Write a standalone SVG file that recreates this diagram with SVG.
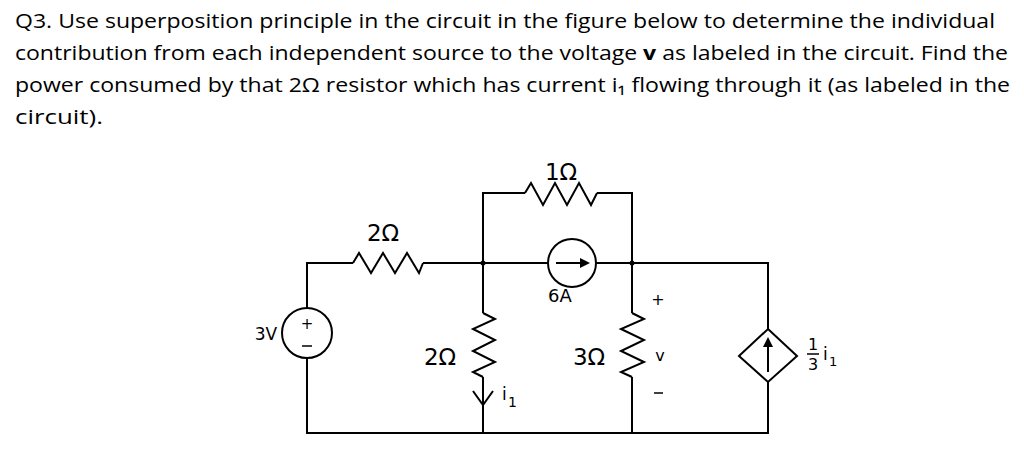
<svg xmlns="http://www.w3.org/2000/svg" width="1024" height="457" viewBox="0 0 1024 457">
<style>
.t{font-family:"Open Sans","Liberation Sans",Arial,sans-serif;font-size:20px;fill:#000}
.c{font-family:"DejaVu Sans",sans-serif;fill:#000}
.w{fill:none;stroke:#000;stroke-width:2}
</style>
<rect width="1024" height="457" fill="#fff"/>
<text class="t" x="15" y="28" textLength="980" lengthAdjust="spacingAndGlyphs">Q3. Use superposition principle in the circuit in the figure below to determine the individual</text>
<text class="t" x="15" y="60" textLength="993" lengthAdjust="spacingAndGlyphs">contribution from each independent source to the voltage <tspan font-weight="bold">v</tspan> as labeled in the circuit. Find the</text>
<text class="t" x="15" y="92" textLength="995" lengthAdjust="spacingAndGlyphs">power consumed by that 2Ω resistor which has current i₁ flowing through it (as labeled in the</text>
<text class="t" x="15" y="124" textLength="88" lengthAdjust="spacingAndGlyphs">circuit).</text>
<g id="connectors" class="w">
<path d="M307,308 V263 H353 M423,263 H548 M596,263 H768 V329 M768,382 V433 H307 V358"/>
<path d="M483,263 V193 H525 M597,193 H632 V263"/>
<path d="M483,263 V313 M483,377 V433 M632,263 V313 M632,377 V433"/>
</g>
<g id="r_top2" class="w"><path d="M353,263 L359,253 L371,273 L383,253 L395,273 L407,253 L419,273 L423,263"/></g>
<g id="r_1" class="w"><path d="M525,193 L531,183 L543,205 L555,183 L567,205 L579,183 L591,205 L597,193"/></g>
<g id="r_mid2" class="w"><path d="M483,313 L495,319 L473,329 L495,340 L473,351 L495,362 L473,372 L483,377"/></g>
<g id="r_3" class="w"><path d="M632,313 L644,319 L621,329 L644,340 L621,351 L644,362 L621,372 L632,377"/></g>
<g id="vs"><circle class="w" cx="307" cy="333" r="25"/><text class="c" x="307" y="329" text-anchor="middle" style="font-size:15px">+</text><path d="M302,346 H312" stroke="#000" stroke-width="1.5"/></g>
<g id="cs"><circle class="w" cx="572" cy="263" r="24"/><path d="M556,263 H584" stroke="#000" stroke-width="2"/><path d="M590,263 L580,258 L580,268 Z" fill="#000"/></g>
<g id="dep"><path class="w" d="M768,329 L797,356 L768,382 L739,356 Z"/><path d="M768,372 V343" stroke="#000" stroke-width="2"/><path d="M768,337 L763,347 L773,347 Z" fill="#000"/></g>
<g id="i1"><path class="w" d="M473,391 L483,405 L493,391"/><text class="c" x="502" y="400" style="font-size:17px">i</text><text class="c" x="508" y="407" style="font-size:14px">1</text></g>
<g fill="#000">
<circle cx="483" cy="263" r="2.5"/><circle cx="632" cy="263" r="2.5"/>
</g>
<text class="c" x="383" y="241" text-anchor="middle" style="font-size:23px">2Ω</text>
<text class="c" x="561" y="180" text-anchor="middle" style="font-size:23px">1Ω</text>
<text class="c" x="560" y="302" text-anchor="middle" style="font-size:18px">6A</text>
<text class="c" x="440" y="365" text-anchor="middle" style="font-size:23px">2Ω</text>
<text class="c" x="589" y="365" text-anchor="middle" style="font-size:23px">3Ω</text>
<text class="c" x="266" y="340" text-anchor="middle" style="font-size:17px">3V</text>
<text class="c" x="658" y="305" text-anchor="middle" style="font-size:16px">+</text>
<text class="c" x="660" y="361" text-anchor="middle" style="font-size:16px">v</text>
<path d="M654,393 H663" stroke="#000" stroke-width="1.5"/>
<text class="c" x="813" y="350" text-anchor="middle" style="font-size:16px">1</text>
<path d="M807,354 H819" stroke="#000" stroke-width="1.5"/>
<text class="c" x="813" y="370" text-anchor="middle" style="font-size:16px">3</text>
<text class="c" x="823" y="360" style="font-size:17px">i</text><text class="c" x="829" y="366" style="font-size:13px">1</text>
</svg>
